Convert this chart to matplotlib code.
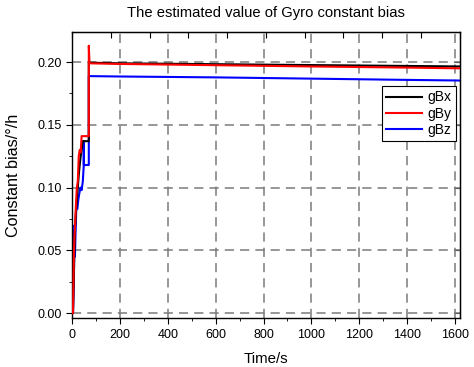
import matplotlib
matplotlib.use("Agg")
import matplotlib.pyplot as plt
from matplotlib.ticker import MultipleLocator, FormatStrFormatter

plt.rcParams['font.family'] = ['Liberation Sans', 'DejaVu Sans']

t_x = [0, 4, 8, 12, 16, 20, 24, 28, 32, 36, 40, 45, 70, 70, 75, 200, 600, 1000, 1400, 1620]
gBx = [0, 0.0, 0.035, 0.065, 0.08, 0.09, 0.10, 0.11, 0.118, 0.125, 0.13, 0.137, 0.137, 0.200, 0.1995, 0.1990, 0.1983, 0.1976, 0.1969, 0.1965]

t_y = [0, 4, 8, 12, 16, 20, 24, 28, 32, 36, 40, 70, 70, 73, 200, 600, 1000, 1400, 1620]
gBy = [0, 0.0, 0.05, 0.068, 0.085, 0.10, 0.105, 0.125, 0.13, 0.128, 0.141, 0.141, 0.213, 0.199, 0.1985, 0.1975, 0.1965, 0.1956, 0.1950]

t_z = [0, 4, 8, 10, 12, 14, 18, 22, 26, 30, 35, 40, 45, 49, 49, 49, 70, 70, 75, 200, 600, 1000, 1400, 1620]
gBz = [0, 0.0, 0.03, 0.07, 0.045, 0.06, 0.085, 0.083, 0.09, 0.095, 0.10, 0.098, 0.105, 0.118, 0.137, 0.118, 0.118, 0.189, 0.1888, 0.1885, 0.1878, 0.1868, 0.1858, 0.1853]

fig = plt.figure(figsize=(4.74, 3.67), dpi=100)
ax = fig.add_axes([0.152, 0.133, 0.818, 0.78])

ax.plot(t_z, gBz, color='blue', lw=1.5, label='gBz', zorder=2)
ax.plot(t_x, gBx, color='black', lw=1.5, label='gBx', zorder=3)
ax.plot(t_y, gBy, color='red', lw=1.5, label='gBy', zorder=4)

ax.set_xlim(0, 1620)
ax.set_ylim(-0.004, 0.224)
ax.xaxis.set_major_locator(MultipleLocator(200))
ax.xaxis.set_minor_locator(MultipleLocator(100))
ax.yaxis.set_major_locator(MultipleLocator(0.05))
ax.yaxis.set_minor_locator(MultipleLocator(0.025))
ax.yaxis.set_major_formatter(FormatStrFormatter('%.2f'))
ax.grid(True, which='major', color='#7a7a7a', ls=(0, (6, 4)), lw=1.1)
ax.tick_params(axis='both', which='both', labelsize=9, direction='out', top=False, right=False)
ax.tick_params(which='major', length=4)
ax.tick_params(which='minor', length=2.5)
for s in ax.spines.values():
    s.set_linewidth(1.0)

# top and right inward ticks (no labels)
top = ax.secondary_xaxis('top')
top.xaxis.set_major_locator(MultipleLocator(162))
top.tick_params(direction='in', length=4, labeltop=False)
right = ax.secondary_yaxis('right')
right.yaxis.set_major_locator(MultipleLocator(0.05))
right.tick_params(direction='in', length=4, labelright=False)

ax.set_title('The estimated value of Gyro constant bias', fontsize=10.6, pad=11)
ax.set_xlabel('Time/s', fontsize=10.8, labelpad=8)
ax.set_ylabel('Constant bias/°/h', fontsize=11.6, labelpad=12)

handles, labels = ax.get_legend_handles_labels()
order = [labels.index(n) for n in ['gBx', 'gBy', 'gBz']]
leg = ax.legend([handles[i] for i in order], [labels[i] for i in order],
                loc='upper right', bbox_to_anchor=(0.99, 0.81), fontsize=10,
                frameon=True, fancybox=False, edgecolor='black', framealpha=1,
                handlelength=2.6, borderpad=0.3, labelspacing=0.15, handletextpad=0.4,
                borderaxespad=0)
leg.get_frame().set_linewidth(0.8)
leg.set_zorder(10)

fig.savefig('out.png', dpi=100)
